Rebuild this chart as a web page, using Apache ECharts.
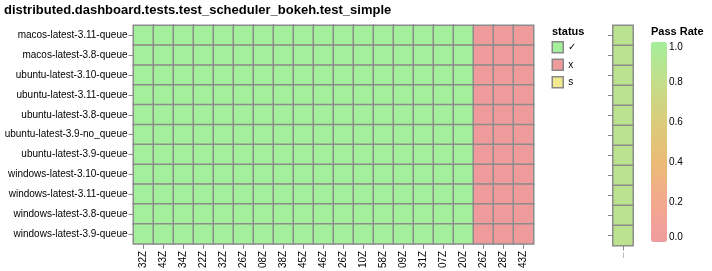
<!DOCTYPE html>
<html>
<head>
<meta charset="utf-8">
<script src="https://cdn.jsdelivr.net/npm/echarts@6/dist/echarts.min.js"></script>
<style>html,body{margin:0;padding:0;background:#fff}#c{width:712px;height:271px}</style>
</head>
<body>
<div id="c"></div>
<script>
var chartTitle = 'distributed.dashboard.tests.test_scheduler_bokeh.test_simple';
var rows = [
  'macos-latest-3.11-queue','macos-latest-3.8-queue','ubuntu-latest-3.10-queue',
  'ubuntu-latest-3.11-queue','ubuntu-latest-3.8-queue','ubuntu-latest-3.9-no_queue',
  'ubuntu-latest-3.9-queue','windows-latest-3.10-queue','windows-latest-3.11-queue',
  'windows-latest-3.8-queue','windows-latest-3.9-queue'
];
var columns = ['32Z','43Z','34Z','22Z','32Z','26Z','08Z','38Z','45Z','46Z','26Z','10Z','58Z','09Z','31Z','07Z','20Z','26Z','28Z','43Z'];
// one string per row, one character per column: P = pass (✓), F = fail (x), S = skip (s)
var statusGrid = [
  'PPPPPPPPPPPPPPPPPFFF',
  'PPPPPPPPPPPPPPPPPFFF',
  'PPPPPPPPPPPPPPPPPFFF',
  'PPPPPPPPPPPPPPPPPFFF',
  'PPPPPPPPPPPPPPPPPFFF',
  'PPPPPPPPPPPPPPPPPFFF',
  'PPPPPPPPPPPPPPPPPFFF',
  'PPPPPPPPPPPPPPPPPFFF',
  'PPPPPPPPPPPPPPPPPFFF',
  'PPPPPPPPPPPPPPPPPFFF',
  'PPPPPPPPPPPPPPPPPFFF'
];
var statusCodes = ['P','F','S'];
var statusNames = ['\u2713','x','s'];
var statusColors = ['#a4ef9b','#f09b9b','#f2e98e'];
var passRate = [0.85,0.85,0.85,0.85,0.85,0.85,0.85,0.85,0.85,0.85,0.85];
var passRateCategory = ['\u2013'];
var gradientColors = ['#f09ca0','#f2a98c','#ebbb76','#d9cc7a','#c3de8a','#a4ef9b'];

var FONT = '"Liberation Sans", Arial, Helvetica, sans-serif';
var cellBorder = '#8c8c8c';

var statusSeries = statusCodes.map(function (code, si) {
  var data = [];
  statusGrid.forEach(function (row, r) {
    for (var c = 0; c < row.length; c++) {
      if (row[c] === code) data.push([c, r, 1]);
    }
  });
  return {
    name: statusNames[si], type: 'heatmap', xAxisIndex: 0, yAxisIndex: 0,
    data: data,
    itemStyle: {color: statusColors[si], borderColor: cellBorder, borderWidth: 1.5},
    emphasis: {disabled: true}
  };
});

var passSeries = {
  name: 'Pass Rate', type: 'heatmap', xAxisIndex: 1, yAxisIndex: 1,
  data: passRate.map(function (v, r) { return [0, r, v]; }),
  itemStyle: {borderColor: cellBorder, borderWidth: 1.5},
  emphasis: {disabled: true}
};

var axisLabelBase = {color: '#000', fontSize: 10, fontFamily: FONT};

var option = {
  animation: false,
  title: [
    {text: chartTitle, left: 4, top: 4, padding: 0, textStyle: {fontSize: 13, fontWeight: 'bold', color: '#000', fontFamily: FONT}},
    {text: 'status', left: 552, top: 26, padding: 0, textStyle: {fontSize: 11, fontWeight: 'bold', color: '#000', fontFamily: FONT}},
    {text: 'Pass Rate', left: 651, top: 26, padding: 0, textStyle: {fontSize: 11, fontWeight: 'bold', color: '#000', fontFamily: FONT}}
  ],
  legend: {
    orient: 'vertical', left: 551.5, top: 41, padding: 0,
    itemWidth: 11, itemHeight: 11, itemGap: 5, icon: 'rect',
    data: statusNames,
    itemStyle: {borderColor: '#888', borderWidth: 1.5},
    textStyle: {fontSize: 10, color: '#000', fontFamily: FONT, lineHeight: 11},
    selectedMode: false
  },
  visualMap: {
    type: 'continuous', min: 0, max: 1, seriesIndex: 3, dimension: 2,
    left: 651, top: 42, padding: 0, itemWidth: 16, itemHeight: 200,
    text: ['', ''], calculable: false, hoverLink: false,
    inRange: {color: gradientColors}
  },
  grid: [
    {left: 133.5, top: 25.5, width: 400, height: 220, show: true, borderColor: '#aaa', borderWidth: 1, backgroundColor: 'transparent'},
    {left: 613, top: 25.5, width: 20, height: 220, show: true, borderColor: '#aaa', borderWidth: 1, backgroundColor: 'transparent'},
    {left: 651, top: 42, width: 16, height: 200}
  ],
  xAxis: [
    {type: 'category', gridIndex: 0, data: columns,
      axisLine: {show: false}, splitLine: {show: false},
      axisTick: {show: true, alignWithLabel: true, length: 5, lineStyle: {color: '#888'}},
      axisLabel: Object.assign({rotate: 90, margin: 7, interval: 0}, axisLabelBase)},
    {type: 'category', gridIndex: 1, data: passRateCategory,
      axisLine: {show: false}, splitLine: {show: false},
      axisTick: {show: true, alignWithLabel: true, length: 5, lineStyle: {color: '#888'}},
      axisLabel: Object.assign({}, axisLabelBase, {rotate: 90, margin: 7, color: '#aaa'})},
    {type: 'value', gridIndex: 2, show: false, min: 0, max: 1}
  ],
  yAxis: [
    {type: 'category', gridIndex: 0, data: rows, inverse: true,
      axisLine: {show: false}, splitLine: {show: false},
      axisTick: {show: true, alignWithLabel: true, length: 5, lineStyle: {color: '#888'}},
      axisLabel: Object.assign({margin: 6, interval: 0}, axisLabelBase)},
    {type: 'category', gridIndex: 1, data: rows, inverse: true,
      axisLine: {show: false}, splitLine: {show: false},
      axisTick: {show: true, alignWithLabel: true, length: 5, lineStyle: {color: '#888'}},
      axisLabel: {show: false}},
    {type: 'value', gridIndex: 2, position: 'right', min: 0, max: 1, interval: 0.2,
      axisLine: {show: false}, axisTick: {show: false}, splitLine: {show: false},
      axisLabel: Object.assign({margin: 2, formatter: function (v) { return v.toFixed(1); },
        verticalAlignMinLabel: 'bottom', verticalAlignMaxLabel: 'top'}, axisLabelBase)}
  ],
  series: statusSeries.concat([passSeries])
};
var chart = echarts.init(document.getElementById('c'), null, {renderer: 'canvas'});
chart.setOption(option);
</script>
</body>
</html>
